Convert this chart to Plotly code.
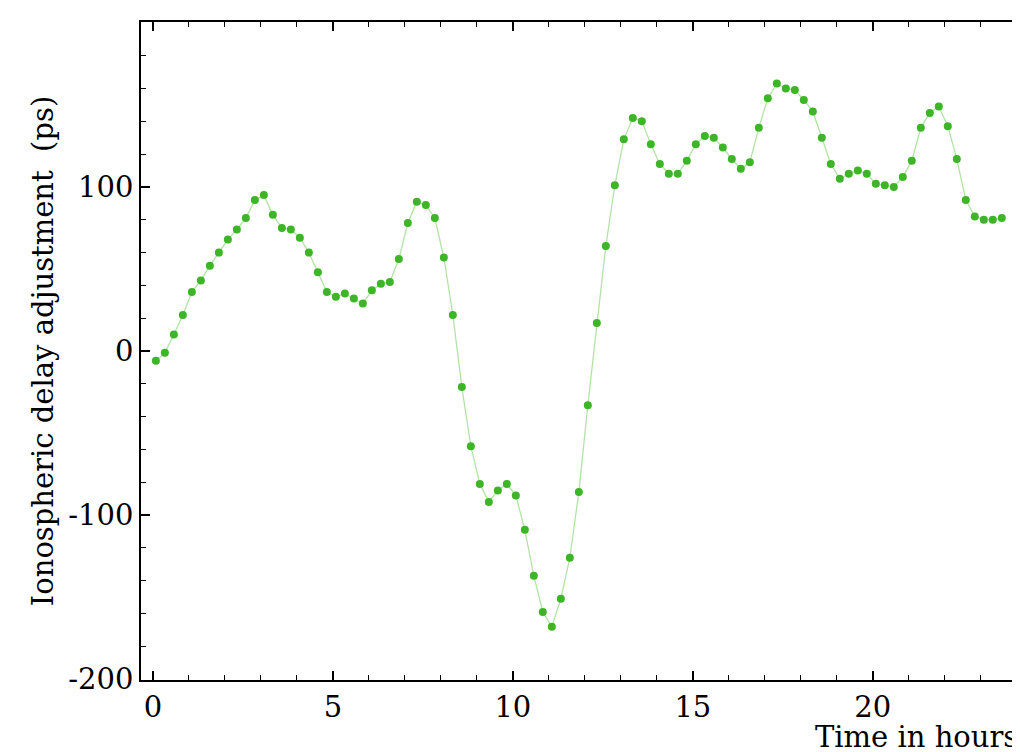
import plotly.graph_objects as go

# time step 15 min, starting at ~5 min past midnight
hours = [0.083 + 0.25 * i for i in range(95)]
delay_ps = [-6, -1, 10, 22, 36, 43, 52, 60, 68, 74, 81, 92, 95, 83, 75, 74, 69, 60, 48, 36,
            33, 35, 32, 29, 37, 41, 42, 56, 78, 91, 89, 81, 57, 22, -22, -58, -81, -92, -85, -81,
            -88, -109, -137, -159, -168, -151, -126, -86, -33, 17, 64, 101, 129, 142, 140, 126, 114, 108, 108, 116,
            126, 131, 130, 124, 117, 111, 115, 136, 154, 163, 160, 159, 153, 146, 130, 114, 105, 108, 110, 108,
            102, 101, 100, 106, 116, 136, 145, 149, 137, 117, 92, 82, 80, 80, 81]

y_ticks = [-200, -100, 0, 100, 200]
y_ticktext = ['-200', '-100', '0', '100', '200']

GREEN = '#3cb526'
FONT = 'DejaVu Serif'

fig = go.Figure()
fig.add_trace(go.Scatter(x=hours, y=delay_ps, mode='lines+markers',
                         line=dict(color='#b2e4a6', width=1.3),
                         marker=dict(color=GREEN, size=8)))

axis_common = dict(showline=True, linecolor='black', linewidth=1.5, mirror='allticks',
                   ticks='inside', ticklen=9, tickwidth=1.5, tickcolor='black',
                   showgrid=False, zeroline=False,
                   tickfont=dict(family=FONT, size=29, color='black'),
                   minor=dict(ticks='inside', ticklen=5, tickwidth=1, tickcolor='black'))

fig.update_layout(
    width=1020, height=752,
    plot_bgcolor='white', paper_bgcolor='white',
    showlegend=False,
    margin=dict(l=133, r=2, t=14, b=80),
    xaxis=dict(range=[-0.33, 24.2], dtick=5, minor_dtick=1, **axis_common),
    yaxis=dict(range=[-200.5, 200.5], tickvals=y_ticks, ticktext=y_ticktext, minor_dtick=20,
               title=dict(text='Ionospheric delay adjustment  (ps)', standoff=6,
                          font=dict(family=FONT, size=29, color='black')),
               **axis_common),
    annotations=[dict(text='Time in hours', xref='paper', yref='paper', x=1, y=0,
                      xanchor='right', yanchor='top', yshift=-38, xshift=-4, showarrow=False,
                      font=dict(family=FONT, size=29, color='black'))],
)

fig.write_html("out.html")
